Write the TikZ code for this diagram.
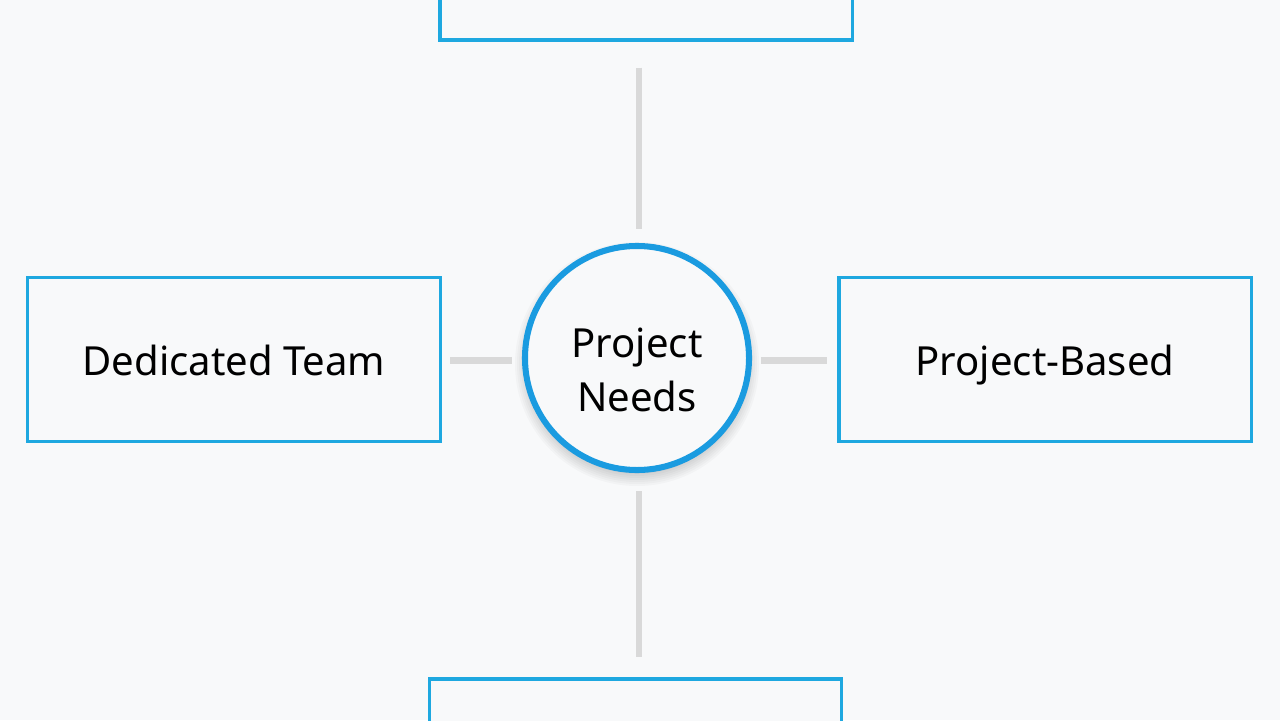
\documentclass[tikz,border=0pt]{standalone}
\usepackage{fontspec}
\setmainfont{Noto Sans}
\definecolor{pagebg}{HTML}{F8F9FA}
\definecolor{boxblue}{HTML}{1EA8E0}
\definecolor{ringblue}{HTML}{1A9BE0}
\definecolor{linkgray}{HTML}{D9D9D9}
\tikzset{
  option/.style={draw=boxblue, line width=2.2pt, fill=pagebg, minimum width=10.3cm,
    minimum height=4.1cm, text height=0.8cm, text depth=0.02cm,
    font=\fontsize{28.5}{34}\selectfont},
  hub/.style={circle, draw=ringblue, line width=4.3pt, fill=pagebg, minimum size=5.6cm},
  hubtext/.style={align=center, yshift=-0.3cm, font=\fontsize{28.5}{39}\selectfont},
  link/.style={draw=linkgray, line width=4.3pt}
}
\begin{document}
\begin{tikzpicture}
    \def\x{0.025}
    \def\y{-0.025}
    \fill[pagebg] (0,0) rectangle (1280*\x, 720*\y);
    \useasboundingbox (0,0) rectangle (1280*\x, 720*\y);
    % soft shadow under the hub
    \foreach \r in {0,...,7}
      \fill[black, opacity=0.025] (637*\x, 364*\y) circle ({(108+2*\r)*\x});
    \node [hub, label={[hubtext]center:Project\\Needs}] (N) at (637*\x, 358*\y) {};
    \node [option] (T) at (646*\x, -42*\y) {};
    \node [option] (L) at (234*\x, 359.5*\y) {Dedicated Team};
    \node [option] (R) at (1045*\x, 359.5*\y) {Project-Based};
    \node [option] (B) at (635.5*\x, 761*\y) {};
    \path [link, shorten >=0.35cm, shorten <=0.65cm] ([xshift=2*\x cm]N.north |- T.south) edge ([xshift=2*\x cm]N.north);
    \path [link, shorten >=0.52cm, shorten <=0.45cm] ([xshift=2*\x cm]N.south) edge ([xshift=2*\x cm]N.south |- B.north);
    \path [link, shorten >=0.25cm, shorten <=0.22cm] ([yshift=-2.5*\x cm]L.east |- N.west) edge ([yshift=-2.5*\x cm]N.west);
    \path [link, shorten >=0.25cm, shorten <=0.22cm] ([yshift=-2.5*\x cm]N.east) edge ([yshift=-2.5*\x cm]R.west |- N.east);
\end{tikzpicture}
\end{document}
